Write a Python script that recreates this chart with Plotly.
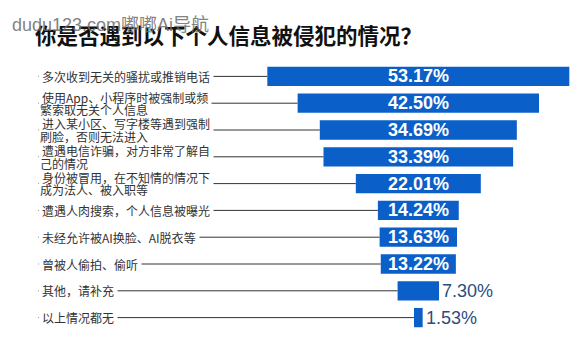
import plotly.graph_objects as go

categories = [
    "多次收到无关的骚扰或推销电话",
    "使用App、小程序时被强制或频<br>繁索取无关个人信息",
    "进入某小区、写字楼等遇到强制<br>刷脸，否则无法进入",
    "遭遇电信诈骗，对方非常了解自<br>己的情况",
    "身份被冒用，在不知情的情况下<br>成为法人、被入职等",
    "遭遇人肉搜索，个人信息被曝光",
    "未经允许被AI换脸、AI脱衣等",
    "曾被人偷拍、偷听",
    "其他，请补充",
    "以上情况都无",
]
values = [53.17, 42.50, 34.69, 33.39, 22.01, 14.24, 13.63, 13.22, 7.30, 1.53]
value_labels = [f"{v:.2f}%" for v in values]
title_text = "你是否遇到以下个人信息被侵犯的情况？"
watermark_text = "dudu123.com嘟嘟Ai导航"

W, H = 579, 360
X_MIN, X_MAX = -73.65, 28.29
ppu = W / (X_MAX - X_MIN)
label_x = X_MIN + 38 / ppu
T_MARGIN, B_MARGIN = 63, 28.6
PLOT_H = H - T_MARGIN - B_MARGIN

BAR_COLOR = "#0b5fc8"
OUT_COLOR = "#2b4d80"
LABEL_COLOR = "#333333"

ids = list(range(len(values)))
bases = [-v / 2 for v in values]

fig = go.Figure()
fig.add_trace(go.Bar(
    y=ids, x=values, base=bases, orientation="h",
    marker=dict(color=BAR_COLOR, line=dict(width=0)),
    textposition="none", hoverinfo="skip",
))

shapes = []
ann_bg = []
ann_plain = []
for i, (cat, b) in enumerate(zip(categories, bases)):
    shapes.append(dict(type="line", xref="x", yref="y", x0=label_x, x1=b,
                       y0=i, y1=i, line=dict(color=LABEL_COLOR, width=1), layer="below"))
    lines = cat.split("<br>")
    offs = [0] if len(lines) == 1 else [6.2, -6.2]
    for j, (ln, off) in enumerate(zip(lines, offs)):
        a = dict(xref="x", yref="y", x=label_x, y=i, yshift=off, text=ln,
                 showarrow=False, xanchor="left", yanchor="middle",
                 font=dict(family="Noto Sans CJK SC", size=12, color=LABEL_COLOR))
        if j == 0:
            a.update(bgcolor="white", borderpad=3)
            ann_bg.append(a)
        else:
            ann_plain.append(a)

val_ann = []
for i, (v, t) in enumerate(zip(values, value_labels)):
    if v > 10:
        val_ann.append(dict(xref="x", yref="y", x=0, y=i, text=f"<b>{t}</b>", showarrow=False,
                            xanchor="center", yanchor="middle",
                            font=dict(family="Liberation Sans, Arial", size=18, color="white")))
    else:
        val_ann.append(dict(xref="x", yref="y", x=v / 2, y=i, text=t, showarrow=False,
                            xanchor="left", yanchor="middle", xshift=1,
                            font=dict(family="Liberation Sans, Arial", size=18, color=OUT_COLOR)))

annotations = ann_bg + ann_plain + val_ann
annotations.append(dict(xref="paper", yref="paper", x=10 / W, y=(H - B_MARGIN - 25) / PLOT_H,
                        xanchor="left", yanchor="middle", text=watermark_text, showarrow=False,
                        font=dict(family="Liberation Sans, Noto Sans CJK SC", size=18, color="#6e6e6e"),
                        opacity=0.85))

fig.update_layout(
    width=W, height=H,
    margin=dict(l=0, r=0, t=T_MARGIN, b=B_MARGIN),
    paper_bgcolor="white", plot_bgcolor="white",
    title=dict(text=title_text, x=35 / W, xanchor="left", y=1 - 36 / H, yanchor="middle",
               font=dict(family="Noto Sans CJK SC", size=21.5, color="#111111", weight="bold")),
    xaxis=dict(range=[X_MIN, X_MAX], visible=False, fixedrange=True),
    yaxis=dict(range=[9.5, -0.5], visible=False, fixedrange=True),
    bargap=0.28,
    showlegend=False,
    shapes=shapes,
    annotations=annotations,
)

fig.write_html("out.html", config={"displayModeBar": False},
               post_script="document.body.style.margin='0';document.body.style.overflow='hidden';")
